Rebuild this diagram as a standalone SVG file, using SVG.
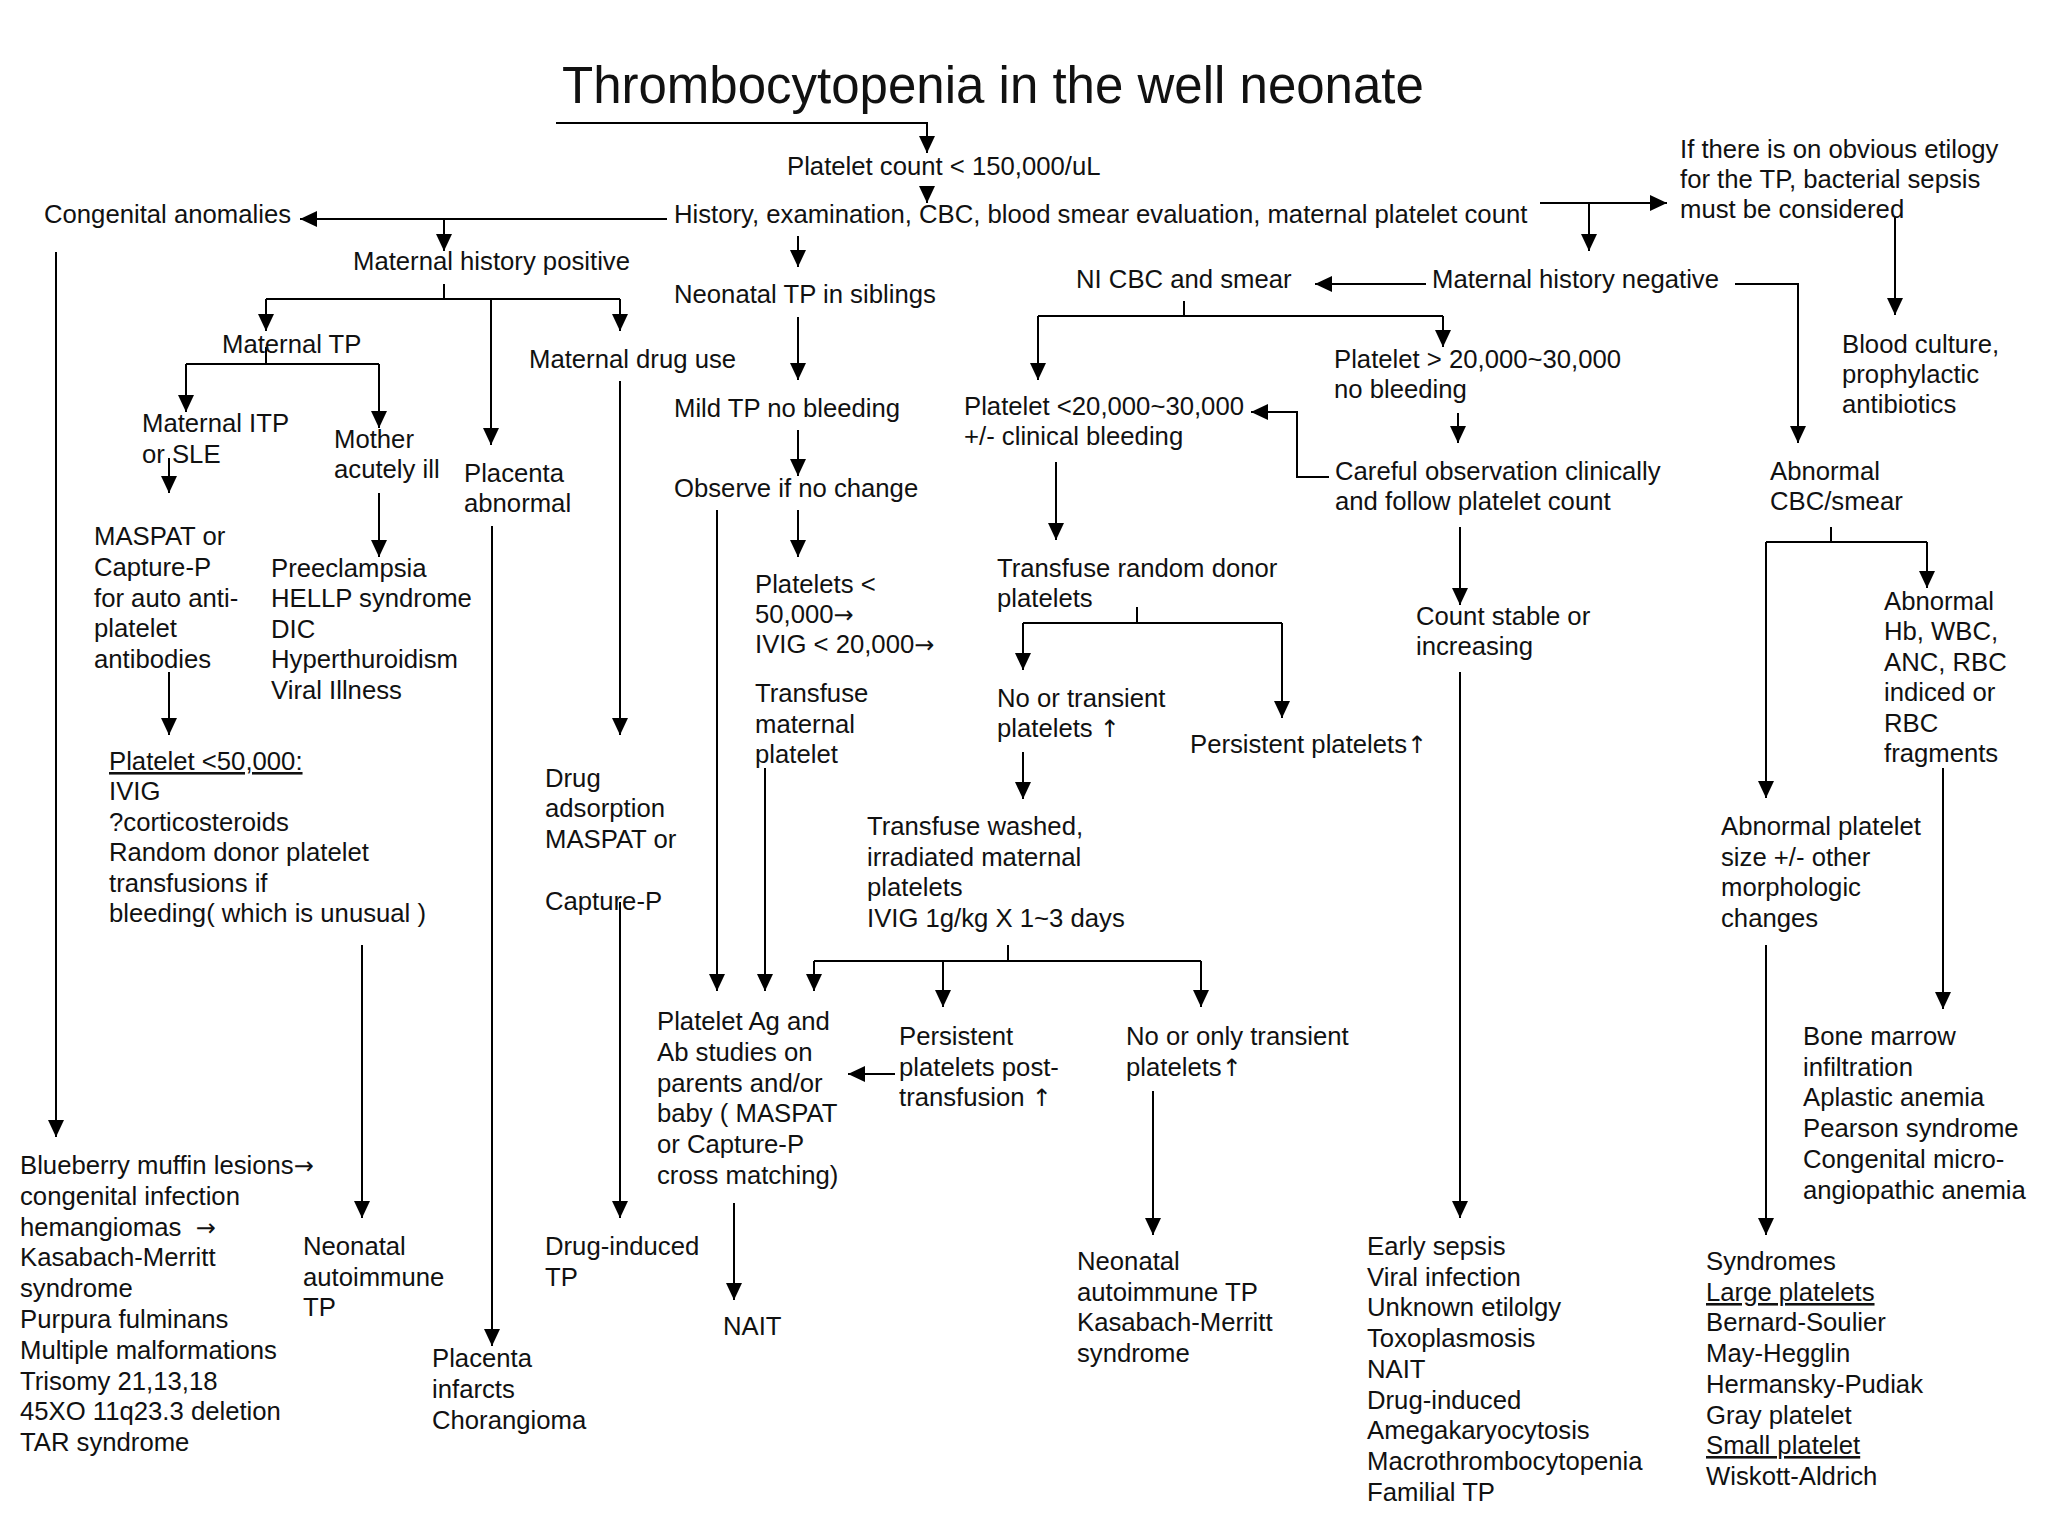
<svg xmlns="http://www.w3.org/2000/svg" width="2048" height="1536" viewBox="0 0 2048 1536">
<style>
text{font-family:"Liberation Sans",Arial,sans-serif;font-size:25.7px;fill:#111}
.title{font-size:51px}
.c{fill:none;stroke:#000;stroke-width:2}
.u{text-decoration:underline}
.ar{font-family:"DejaVu Sans",sans-serif;font-size:24px}
</style>
<defs>
<marker id="ah" markerUnits="userSpaceOnUse" markerWidth="18" markerHeight="18" refX="17" refY="8" orient="auto">
<path d="M0,0 L17,8 L0,16 z" fill="#000"/>
</marker>
</defs>
<rect width="2048" height="1536" fill="#fff"/>
<g id="connectors" class="c" marker-end="url(#ah)">
<polyline points="556,123 927,123 927,153"/>
<line x1="927" y1="187" x2="927" y2="203"/>
<line x1="667" y1="219" x2="300" y2="219"/>
<line x1="444" y1="219" x2="444" y2="251"/>
<line x1="798" y1="236" x2="798" y2="267"/>
<line x1="1540" y1="203" x2="1667" y2="203"/>
<line x1="1589" y1="203" x2="1589" y2="251"/>
<line x1="1895" y1="217" x2="1895" y2="315"/>
<line x1="1426" y1="284" x2="1315" y2="284"/>
<polyline points="1735,284 1798,284 1798,443"/>
<line x1="444" y1="284" x2="444" y2="299" marker-end="none"/>
<line x1="266" y1="299" x2="620" y2="299" marker-end="none"/>
<line x1="266" y1="299" x2="266" y2="331"/>
<line x1="620" y1="299" x2="620" y2="331"/>
<line x1="491" y1="299" x2="491" y2="445"/>
<line x1="1184" y1="301" x2="1184" y2="316" marker-end="none"/>
<line x1="1038" y1="316" x2="1443" y2="316" marker-end="none"/>
<line x1="1038" y1="316" x2="1038" y2="380"/>
<line x1="1443" y1="316" x2="1443" y2="347"/>
<line x1="266" y1="347" x2="266" y2="364" marker-end="none"/>
<line x1="186" y1="364" x2="379" y2="364" marker-end="none"/>
<line x1="186" y1="364" x2="186" y2="412"/>
<line x1="379" y1="364" x2="379" y2="428"/>
<line x1="620" y1="381" x2="620" y2="735"/>
<line x1="798" y1="317" x2="798" y2="380"/>
<line x1="798" y1="430" x2="798" y2="476"/>
<line x1="1458" y1="413" x2="1458" y2="443"/>
<polyline points="1329,477 1297,477 1297,412 1251,412"/>
<line x1="169" y1="458" x2="169" y2="493"/>
<line x1="379" y1="493" x2="379" y2="557"/>
<line x1="492" y1="526" x2="492" y2="1346"/>
<line x1="798" y1="510" x2="798" y2="557"/>
<line x1="717" y1="510" x2="717" y2="991"/>
<line x1="1056" y1="462" x2="1056" y2="540"/>
<line x1="1460" y1="527" x2="1460" y2="605"/>
<line x1="1831" y1="527" x2="1831" y2="542" marker-end="none"/>
<line x1="1766" y1="542" x2="1927" y2="542" marker-end="none"/>
<line x1="1927" y1="542" x2="1927" y2="588"/>
<line x1="1766" y1="542" x2="1766" y2="798"/>
<line x1="1137" y1="607" x2="1137" y2="623" marker-end="none"/>
<line x1="1023" y1="623" x2="1282" y2="623" marker-end="none"/>
<line x1="1023" y1="623" x2="1023" y2="670"/>
<line x1="1282" y1="623" x2="1282" y2="718"/>
<line x1="1460" y1="672" x2="1460" y2="1218"/>
<line x1="169" y1="672" x2="169" y2="735"/>
<line x1="1023" y1="752" x2="1023" y2="799"/>
<line x1="765" y1="768" x2="765" y2="991"/>
<line x1="1943" y1="768" x2="1943" y2="1009"/>
<line x1="620" y1="902" x2="620" y2="1218"/>
<line x1="1008" y1="945" x2="1008" y2="961" marker-end="none"/>
<line x1="814" y1="961" x2="1201" y2="961" marker-end="none"/>
<line x1="814" y1="961" x2="814" y2="991"/>
<line x1="943" y1="961" x2="943" y2="1007"/>
<line x1="1201" y1="961" x2="1201" y2="1007"/>
<line x1="1766" y1="945" x2="1766" y2="1235"/>
<line x1="362" y1="945" x2="362" y2="1218"/>
<line x1="895" y1="1074" x2="848" y2="1074"/>
<line x1="1153" y1="1091" x2="1153" y2="1235"/>
<line x1="734" y1="1203" x2="734" y2="1300"/>
<line x1="56" y1="252" x2="56" y2="1137"/>
</g>
<g id="n_title"><text class="title" x="562" y="103">Thrombocytopenia in the well neonate</text></g>
<g id="n_platelet_count"><text x="787" y="175">Platelet count &lt; 150,000/uL</text></g>
<g id="n_history"><text x="674" y="223">History, examination, CBC, blood smear evaluation, maternal platelet count</text></g>
<g id="n_congenital"><text x="44" y="223">Congenital anomalies</text></g>
<g id="n_if_there"><text><tspan x="1680" y="158">If there is on obvious etilogy</tspan><tspan x="1680" y="188">for the TP, bacterial sepsis</tspan><tspan x="1680" y="218">must be considered</tspan></text></g>
<g id="n_mhp"><text x="353" y="270">Maternal history positive</text></g>
<g id="n_neonatal_sib"><text x="674" y="303">Neonatal TP in siblings</text></g>
<g id="n_ni_cbc"><text x="1076" y="288">NI CBC and smear</text></g>
<g id="n_mhn"><text x="1432" y="288">Maternal history negative</text></g>
<g id="n_blood_culture"><text><tspan x="1842" y="353">Blood culture,</tspan><tspan x="1842" y="383">prophylactic</tspan><tspan x="1842" y="413">antibiotics</tspan></text></g>
<g id="n_maternal_tp"><text x="222" y="353">Maternal TP</text></g>
<g id="n_drug_use"><text x="529" y="368">Maternal drug use</text></g>
<g id="n_plt_gt"><text><tspan x="1334" y="368">Platelet &gt; 20,000~30,000</tspan><tspan x="1334" y="398">no bleeding</tspan></text></g>
<g id="n_mat_itp"><text><tspan x="142" y="432">Maternal ITP</tspan><tspan x="142" y="463">or SLE</tspan></text></g>
<g id="n_mother"><text><tspan x="334" y="448">Mother</tspan><tspan x="334" y="478">acutely ill</tspan></text></g>
<g id="n_placenta_abn"><text><tspan x="464" y="482">Placenta</tspan><tspan x="464" y="512">abnormal</tspan></text></g>
<g id="n_mild"><text x="674" y="417">Mild TP no bleeding</text></g>
<g id="n_plt_lt"><text><tspan x="964" y="415">Platelet &lt;20,000~30,000</tspan><tspan x="964" y="445">+/- clinical bleeding</tspan></text></g>
<g id="n_observe"><text x="674" y="497">Observe if no change</text></g>
<g id="n_careful"><text><tspan x="1335" y="480">Careful observation clinically</tspan><tspan x="1335" y="510">and follow platelet count</tspan></text></g>
<g id="n_abn_cbc"><text><tspan x="1770" y="480">Abnormal</tspan><tspan x="1770" y="510">CBC/smear</tspan></text></g>
<g id="n_maspat"><text><tspan x="94" y="545">MASPAT or</tspan><tspan x="94" y="576">Capture-P</tspan><tspan x="94" y="607">for auto anti-</tspan><tspan x="94" y="637">platelet</tspan><tspan x="94" y="668">antibodies</tspan></text></g>
<g id="n_preeclampsia"><text><tspan x="271" y="577">Preeclampsia</tspan><tspan x="271" y="607">HELLP syndrome</tspan><tspan x="271" y="638">DIC</tspan><tspan x="271" y="668">Hyperthuroidism</tspan><tspan x="271" y="699">Viral Illness</tspan></text></g>
<g id="n_platelets_lt50"><text><tspan x="755" y="593">Platelets &lt;</tspan><tspan x="755" y="623">50,000<tspan class="ar">→</tspan></tspan><tspan x="755" y="653">IVIG &lt; 20,000<tspan class="ar">→</tspan></tspan></text></g>
<g id="n_transfuse_random"><text><tspan x="997" y="577">Transfuse random donor</tspan><tspan x="997" y="607">platelets</tspan></text></g>
<g id="n_count_stable"><text><tspan x="1416" y="625">Count stable or</tspan><tspan x="1416" y="655">increasing</tspan></text></g>
<g id="n_abn_hb"><text><tspan x="1884" y="610">Abnormal</tspan><tspan x="1884" y="640">Hb, WBC,</tspan><tspan x="1884" y="671">ANC, RBC</tspan><tspan x="1884" y="701">indiced or</tspan><tspan x="1884" y="732">RBC</tspan><tspan x="1884" y="762">fragments</tspan></text></g>
<g id="n_transfuse_maternal"><text><tspan x="755" y="702">Transfuse</tspan><tspan x="755" y="733">maternal</tspan><tspan x="755" y="763">platelet</tspan></text></g>
<g id="n_no_transient"><text><tspan x="997" y="707">No or transient</tspan><tspan x="997" y="737">platelets <tspan class="ar">↑</tspan></tspan></text></g>
<g id="n_persistent"><text x="1190" y="753">Persistent platelets<tspan class="ar">↑</tspan></text></g>
<g id="n_plt_lt50k"><text><tspan x="109" y="770" class="u">Platelet &lt;50,000:</tspan><tspan x="109" y="800">IVIG</tspan><tspan x="109" y="831">?corticosteroids</tspan><tspan x="109" y="861">Random donor platelet</tspan><tspan x="109" y="892">transfusions if</tspan><tspan x="109" y="922">bleeding( which is unusual )</tspan></text></g>
<g id="n_drug_ads"><text><tspan x="545" y="787">Drug</tspan><tspan x="545" y="817">adsorption</tspan><tspan x="545" y="848">MASPAT or</tspan><tspan x="545" y="910">Capture-P</tspan></text></g>
<g id="n_transfuse_washed"><text><tspan x="867" y="835">Transfuse washed,</tspan><tspan x="867" y="866">irradiated maternal</tspan><tspan x="867" y="896">platelets</tspan><tspan x="867" y="927">IVIG 1g/kg X 1~3 days</tspan></text></g>
<g id="n_abn_platelet_size"><text><tspan x="1721" y="835">Abnormal platelet</tspan><tspan x="1721" y="866">size +/- other</tspan><tspan x="1721" y="896">morphologic</tspan><tspan x="1721" y="927">changes</tspan></text></g>
<g id="n_platelet_ag"><text><tspan x="657" y="1030">Platelet Ag and</tspan><tspan x="657" y="1061">Ab studies on</tspan><tspan x="657" y="1092">parents and/or</tspan><tspan x="657" y="1122">baby ( MASPAT</tspan><tspan x="657" y="1153">or Capture-P</tspan><tspan x="657" y="1184">cross matching)</tspan></text></g>
<g id="n_persistent_post"><text><tspan x="899" y="1045">Persistent</tspan><tspan x="899" y="1076">platelets post-</tspan><tspan x="899" y="1106">transfusion <tspan class="ar">↑</tspan></tspan></text></g>
<g id="n_no_only"><text><tspan x="1126" y="1045">No or only transient</tspan><tspan x="1126" y="1076">platelets<tspan class="ar">↑</tspan></tspan></text></g>
<g id="n_bone_marrow"><text><tspan x="1803" y="1045">Bone marrow</tspan><tspan x="1803" y="1076">infiltration</tspan><tspan x="1803" y="1106">Aplastic anemia</tspan><tspan x="1803" y="1137">Pearson syndrome</tspan><tspan x="1803" y="1168">Congenital micro-</tspan><tspan x="1803" y="1199">angiopathic anemia</tspan></text></g>
<g id="n_blueberry"><text><tspan x="20" y="1174">Blueberry muffin lesions<tspan class="ar">→</tspan></tspan><tspan x="20" y="1205">congenital infection</tspan><tspan x="20" y="1236">hemangiomas&#160; <tspan class="ar">→</tspan></tspan><tspan x="20" y="1266">Kasabach-Merritt</tspan><tspan x="20" y="1297">syndrome</tspan><tspan x="20" y="1328">Purpura fulminans</tspan><tspan x="20" y="1359">Multiple malformations</tspan><tspan x="20" y="1390">Trisomy 21,13,18</tspan><tspan x="20" y="1420">45XO 11q23.3 deletion</tspan><tspan x="20" y="1451">TAR syndrome</tspan></text></g>
<g id="n_neonatal_auto"><text><tspan x="303" y="1255">Neonatal</tspan><tspan x="303" y="1286">autoimmune</tspan><tspan x="303" y="1316">TP</tspan></text></g>
<g id="n_drug_induced"><text><tspan x="545" y="1255">Drug-induced</tspan><tspan x="545" y="1286">TP</tspan></text></g>
<g id="n_early_sepsis"><text><tspan x="1367" y="1255">Early sepsis</tspan><tspan x="1367" y="1286">Viral infection</tspan><tspan x="1367" y="1316">Unknown etilolgy</tspan><tspan x="1367" y="1347">Toxoplasmosis</tspan><tspan x="1367" y="1378">NAIT</tspan><tspan x="1367" y="1409">Drug-induced</tspan><tspan x="1367" y="1439">Amegakaryocytosis</tspan><tspan x="1367" y="1470">Macrothrombocytopenia</tspan><tspan x="1367" y="1501">Familial TP</tspan></text></g>
<g id="n_neonatal_auto2"><text><tspan x="1077" y="1270">Neonatal</tspan><tspan x="1077" y="1301">autoimmune TP</tspan><tspan x="1077" y="1331">Kasabach-Merritt</tspan><tspan x="1077" y="1362">syndrome</tspan></text></g>
<g id="n_syndromes"><text><tspan x="1706" y="1270">Syndromes</tspan><tspan x="1706" y="1301" class="u">Large platelets</tspan><tspan x="1706" y="1331">Bernard-Soulier</tspan><tspan x="1706" y="1362">May-Hegglin</tspan><tspan x="1706" y="1393">Hermansky-Pudiak</tspan><tspan x="1706" y="1424">Gray platelet</tspan><tspan x="1706" y="1454" class="u">Small platelet</tspan><tspan x="1706" y="1485">Wiskott-Aldrich</tspan></text></g>
<g id="n_nait"><text x="723" y="1335">NAIT</text></g>
<g id="n_placenta_inf"><text><tspan x="432" y="1367">Placenta</tspan><tspan x="432" y="1398">infarcts</tspan><tspan x="432" y="1429">Chorangioma</tspan></text></g>
</svg>
